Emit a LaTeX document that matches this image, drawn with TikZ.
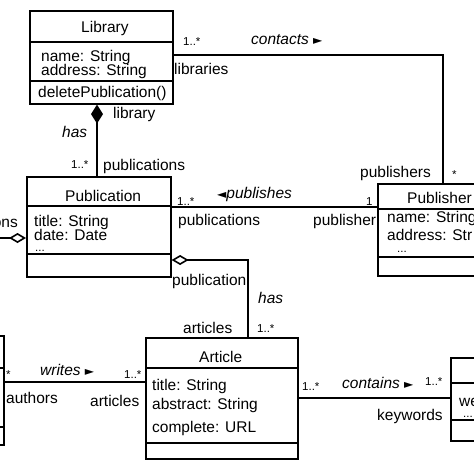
\documentclass[tikz,border=0pt]{standalone}
\usepackage{fontspec}
\setmainfont{Liberation Sans}
\newfontfamily\symfnt{DejaVu Sans}
\usetikzlibrary{arrows.meta}

\newcommand{\rtri}{{\symfnt\fontsize{12}{12}\selectfont ►}}
\newcommand{\ltri}{{\symfnt\fontsize{12}{12}\selectfont ◄}}

\tikzset{
  cls/.style={draw, line width=1.6pt, anchor=north west, inner sep=0pt},
  txt/.style={anchor=base west, inner sep=0pt, font=\fontsize{15.5}{17}\selectfont},
  rtxt/.style={txt, anchor=base east},
  mult/.style={anchor=base west, inner sep=0pt, font=\fontsize{11.5}{12}\selectfont},
  dots/.style={mult, text height=1.5pt, text depth=0pt},
  assoc/.style={txt, font=\fontsize{15.5}{17}\selectfont\itshape},
  link/.style={line width=1.6pt},
  compo/.style={link, {Diamond[length=19pt,width=12pt]}-},
  aggr/.style={link, {Diamond[open,length=17pt,width=10pt]}-}
}

\begin{document}
\begin{tikzpicture}[x=1pt,y=-1pt]
  \fill[white] (0,0) rectangle (474,474);
  \clip (0,0) rectangle (474,474);

  % classes
  \node[cls, minimum width=143pt, minimum height=93pt]  (Library)     at (29,10)  {};
  \node[cls, minimum width=144pt, minimum height=100pt] (Publication) at (26,176) {};
  \node[cls, minimum width=150pt, minimum height=92pt]  (Publisher)   at (377,183) {};
  \node[cls, minimum width=152pt, minimum height=121pt] (Article)     at (145,337) {};
  \node[cls, minimum width=63pt,  minimum height=109pt] (Author)      at (-60,335) {};
  \node[cls, minimum width=80pt,  minimum height=83pt]  (Keyword)     at (450,357) {};

  % compartments
  \foreach \c/\y in {Library/42, Library/81, Publication/206, Publication/254,
                     Publisher/209, Publisher/257, Article/368, Article/443,
                     Author/368, Author/427, Keyword/383, Keyword/420}
    \draw[line width=1.6pt] (\c.west |- 0,\y) -- (\c.east |- 0,\y);

  % class texts
  \node[txt] (libName) at (81,32)  {Library};
  \node[txt] (libA1)   at (41,61)  {name: String};
  \node[txt] (libA2)   at (41,75)  {address: String};
  \node[txt] (libOp)   at (38,97)  {deletePublication()};

  \node[txt] (pubName) at (65,201) {Publication};
  \node[txt] (pubA1)   at (34,226) {title: String};
  \node[txt] (pubA2)   at (34,240) {date: Date};
  \node[dots] (pubA3)  at (35,251) {...};

  \node[txt] (pblName) at (407,203) {Publisher};
  \node[txt] (pblA1)   at (387,222) {name: String};
  \node[txt] (pblA2)   at (387,240) {address: Str};
  \node[dots] (pblA3)  at (397,252) {...};

  \node[txt] (artName) at (199,362) {Article};
  \node[txt] (artA1)   at (152,390) {title: String};
  \node[txt] (artA2)   at (152,409) {abstract: String};
  \node[txt] (artA3)   at (152,432) {complete: URL};

  \node[txt] (kwA1)    at (459,406) {we};
  \node[dots] (kwA2)   at (463,417) {...};

  % connectors
  \draw[link]  (Library.east |- 0,55) -| (Publisher.north -| 443,0);
  \draw[compo] (Library.south -| 97,0) -- (Publication.north -| 97,0);
  \coordinate (offLeft) at (0,238);
  \draw[aggr]  (Publication.west |- offLeft) -- (offLeft);
  \draw[link]  (Publication.east |- 0,207) -- (Publisher.west |- 0,207);
  \draw[aggr]  (Publication.east |- 0,260) -| (Article.north -| 248,0);
  \draw[link]  (Author.east |- 0,382) -- (Article.west |- 0,382);
  \draw[link]  (Article.east |- 0,398) -- (Keyword.west |- 0,398);

  % roles, multiplicities, association names
  \node[mult]  at (183,45)  {1..*};
  \node[txt]   at (174,74)  {libraries};
  \node[assoc] at (251,44)  {contacts \rtri};
  \node[txt]   at (360,177) {publishers};
  \node[mult]  at (452,178) {*};

  \node[txt]   at (113,118) {library};
  \node[assoc] at (62,137)  {has};
  \node[mult]  at (71,168)  {1..*};
  \node[txt]   at (103,170) {publications};

  \node[rtxt]  at (18,227)  {ons};

  \node[mult]  at (177,205) {1..*};
  \node[assoc] at (217,198) {\ltri publishes};
  \node[txt]   at (178,225) {publications};
  \node[mult]  at (366,205) {1};
  \node[txt]   at (313,225) {publisher};

  \node[txt]   at (172,285) {publication};
  \node[assoc] at (258,303) {has};
  \node[txt]   at (183,333) {articles};
  \node[mult]  at (257,332) {1..*};

  \node[mult]  at (6,378)   {*};
  \node[assoc] at (40,375)  {writes \rtri};
  \node[mult]  at (124,378) {1..*};
  \node[txt]   at (6,403)   {authors};
  \node[txt]   at (90,406)  {articles};

  \node[mult]  at (302,390) {1..*};
  \node[assoc] at (342,388) {contains \rtri};
  \node[mult]  at (425,385) {1..*};
  \node[txt]   at (377,420) {keywords};
\end{tikzpicture}
\end{document}
